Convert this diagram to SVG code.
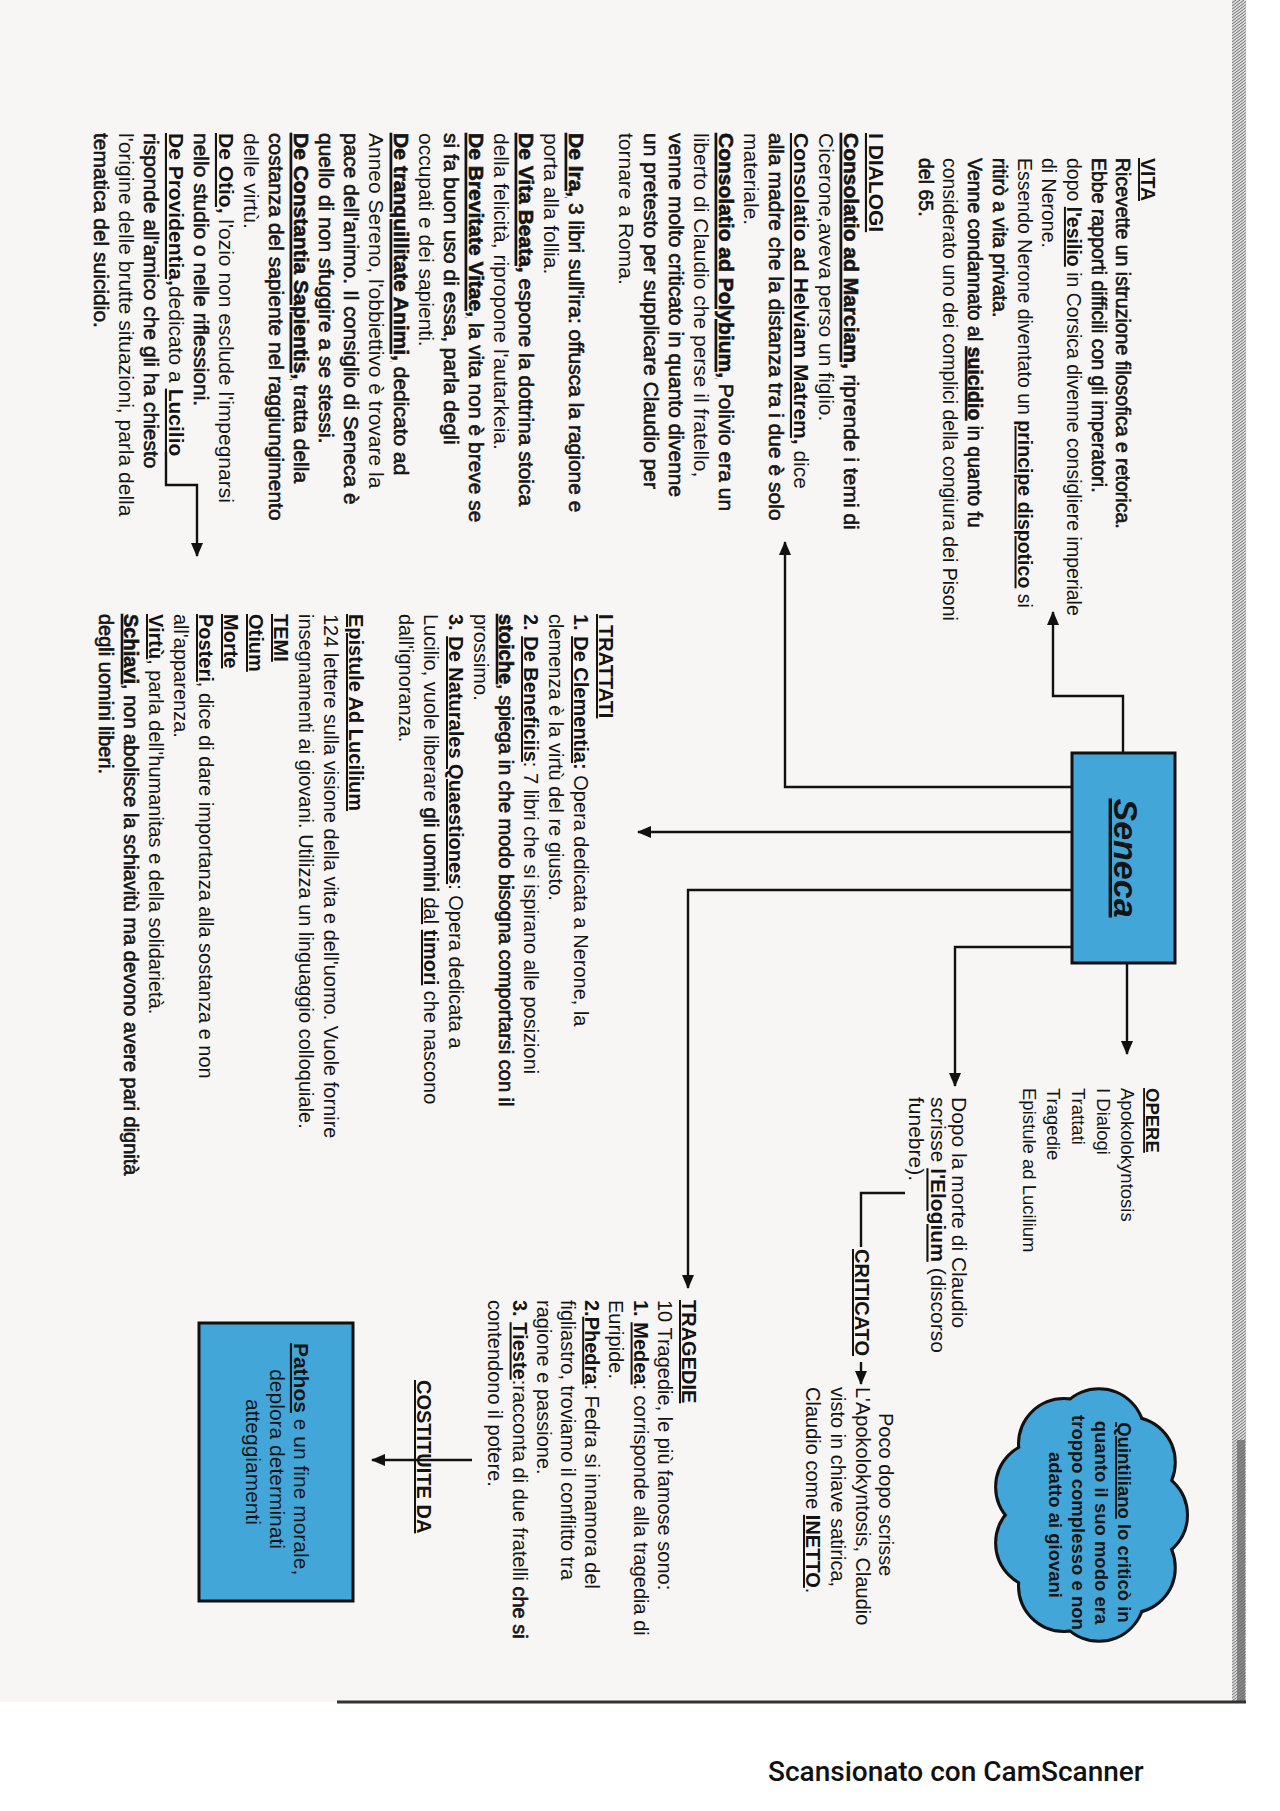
<svg xmlns="http://www.w3.org/2000/svg" width="1280" height="1811" viewBox="0 0 1280 1811">
<style>
.t{font-family:"Liberation Sans",Arial,sans-serif;font-size:20px;fill:#141414}
.b{font-weight:bold}
.m{stroke:#141414;stroke-width:0.6px}
.u{text-decoration:underline}
.s195{font-size:19.5px}
.s21{font-size:21px}
.s185{font-size:18.5px}
.ln{fill:none;stroke:#111;stroke-width:2.4}
.box{fill:#42a7d8;stroke:#111;stroke-width:3}
.title{font-family:"Liberation Sans",Arial,sans-serif;font-size:34px;font-weight:bold;font-style:italic;fill:#141414;text-decoration:underline}
</style>
<defs>
<marker id="ah" markerUnits="userSpaceOnUse" markerWidth="14" markerHeight="12" refX="13" refY="6" orient="auto">
<path d="M0,0 L14,6 L0,12 z" fill="#111"/>
</marker>
<pattern id="hatch" width="4" height="3" patternUnits="userSpaceOnUse">
<rect width="4" height="3" fill="#d8d8d8"/>
<path d="M0,3 L4,0" stroke="#777" stroke-width="1"/>
</pattern>
</defs>
<rect width="1280" height="1811" fill="#ffffff"/>
<rect x="0" y="0" width="1246" height="1702" fill="#f7f6f5"/>
<rect x="1232" y="0" width="14" height="1702" fill="url(#hatch)"/>
<rect x="1237" y="1440" width="8" height="262" fill="#666" opacity="0.7"/>
<line x1="337" y1="1702" x2="1246" y2="1702" stroke="#333" stroke-width="3"/>

<g id="connectors">
<path class="ln" d="M1123 753 V696 H1053 V612" marker-end="url(#ah)"/>
<path class="ln" d="M1072 787 H785 V542" marker-end="url(#ah)"/>
<path class="ln" d="M1072 832 H638" marker-end="url(#ah)"/>
<path class="ln" d="M1072 890 H688 V1288" marker-end="url(#ah)"/>
<path class="ln" d="M1072 947 H955 V1086" marker-end="url(#ah)"/>
<path class="ln" d="M1127 963 V1054" marker-end="url(#ah)"/>
<path class="ln" d="M905 1193 H861 V1247"/>
<path class="ln" d="M861 1362 V1384" marker-end="url(#ah)"/>
<path class="ln" d="M472 1460 H372" marker-end="url(#ah)"/>
<path class="ln" d="M166 452 V485 H197 V556" marker-end="url(#ah)"/>
</g>

<g id="seneca">
<rect class="box" x="1072" y="753" width="103" height="210"/>
<text class="title" transform="translate(1114,858) rotate(90)" text-anchor="middle">Seneca</text>
</g>

<g id="vita">
<text class="t s195" transform="translate(1141,158) rotate(90)">
<tspan x="0" y="0" class="b u">VITA</tspan>
<tspan x="0" dy="24.7" class="m">Ricevette un istruzione filosofica e retorica.</tspan>
<tspan x="0" dy="24.7" class="m">Ebbe rapporti difficili con gli imperatori.</tspan>
<tspan x="0" dy="24.7">dopo <tspan class="b u">l'esilio</tspan> in Corsica divenne consigliere imperiale</tspan>
<tspan x="0" dy="24.7">di Nerone.</tspan>
<tspan x="0" dy="24.7">Essendo Nerone diventato un <tspan class="b u">principe dispotico</tspan> si</tspan>
<tspan x="0" dy="24.7" class="m">ritirò a vita privata.</tspan>
<tspan x="0" dy="24.7" class="m">Venne condannato al <tspan class="b u">suicidio</tspan> in quanto fu</tspan>
<tspan x="0" dy="24.7">considerato  uno dei complici della congiura dei Pisoni</tspan>
<tspan x="0" dy="24.7" class="m">del 65.</tspan>
</text>
</g>

<g id="dialogi">
<text class="t s21" transform="translate(869,133) rotate(90)">
<tspan x="0" y="0" class="b u">I DIALOGI</tspan>
<tspan x="0" dy="25" class="m"><tspan class="b u">Consolatio ad Marciam,</tspan> riprende i temi di</tspan>
<tspan x="0" dy="25">Cicerone,aveva perso un figlio.</tspan>
<tspan x="0" dy="25"><tspan class="b u">Consolatio ad Helviam Matrem,</tspan> dice</tspan>
<tspan x="0" dy="25" class="m">alla madre che la distanza tra i due è solo</tspan>
<tspan x="0" dy="25">materiale.</tspan>
<tspan x="0" dy="25" class="m"><tspan class="b u">Consolatio ad Polybium,</tspan> Polivio era un</tspan>
<tspan x="0" dy="25">liberto di Claudio che perse il fratello,</tspan>
<tspan x="0" dy="25" class="m">venne molto criticato in quanto divenne</tspan>
<tspan x="0" dy="25" class="m">un pretesto per supplicare Claudio per</tspan>
<tspan x="0" dy="25">tornare a Roma.</tspan>
<tspan x="0" dy="50" class="m"><tspan class="b u">De Ira,</tspan> 3 libri sull'ira: offusca la ragione e</tspan>
<tspan x="0" dy="25">porta alla follia.</tspan>
<tspan x="0" dy="25" class="m"><tspan class="b u">De Vita Beata,</tspan> espone la dottrina stoica</tspan>
<tspan x="0" dy="25">della felicità, ripropone l'autarkeia.</tspan>
<tspan x="0" dy="25" class="m"><tspan class="b u">De Brevitate Vitae,</tspan> la vita non è breve se</tspan>
<tspan x="0" dy="25" class="m">si fa buon uso di essa, parla degli</tspan>
<tspan x="0" dy="25">occupati e dei sapienti.</tspan>
<tspan x="0" dy="25" class="m"><tspan class="b u">De tranquillitate Animi,</tspan> dedicato ad</tspan>
<tspan x="0" dy="25">Anneo Sereno, l'obbiettivo è trovare la</tspan>
<tspan x="0" dy="25" class="m">pace dell'animo. Il consiglio di Seneca è</tspan>
<tspan x="0" dy="25" class="m">quello di non sfuggire a se stessi.</tspan>
<tspan x="0" dy="25" class="m"><tspan class="b u">De Constantia Sapientis,</tspan> tratta della</tspan>
<tspan x="0" dy="25" class="m">costanza del sapiente nel raggiungimento</tspan>
<tspan x="0" dy="25">delle virtù.</tspan>
<tspan x="0" dy="25"><tspan class="b u">De Otio,</tspan> l'ozio non esclude l'impegnarsi</tspan>
<tspan x="0" dy="25" class="m">nello studio o nelle riflessioni.</tspan>
<tspan x="0" dy="25"><tspan class="b u">De Providentia,</tspan>dedicato a <tspan class="b u">Lucilio</tspan></tspan>
<tspan x="0" dy="25" class="m">risponde all'amico che gli ha chiesto</tspan>
<tspan x="0" dy="25">l'origine delle brutte situazioni, parla della</tspan>
<tspan x="0" dy="25" class="m">tematica del suicidio.</tspan>
</text>
</g>

<g id="trattati">
<text class="t" transform="translate(599,614) rotate(90)">
<tspan x="0" y="0" class="b u">I TRATTATI</tspan>
<tspan x="0" dy="25"><tspan class="b">1. <tspan class="u">De Clementia</tspan>:</tspan> Opera dedicata a Nerone, la</tspan>
<tspan x="0" dy="25">clemenza è la virtù del re giusto.</tspan>
<tspan x="0" dy="25"><tspan class="b">2. <tspan class="u">De Beneficiis</tspan></tspan>: 7 libri che si ispirano alle posizioni</tspan>
<tspan x="0" dy="25" class="m"><tspan class="b u">stoiche</tspan>, spiega in che modo bisogna comportarsi con il</tspan>
<tspan x="0" dy="25">prossimo.</tspan>
<tspan x="0" dy="25"><tspan class="b">3. <tspan class="u">De Naturales Quaestiones</tspan></tspan>: Opera dedicata a</tspan>
<tspan x="0" dy="25">Lucilio, vuole liberare <tspan class="m">gli uomini</tspan> <tspan class="u">dal</tspan> <tspan class="b u">timori</tspan> che nascono</tspan>
<tspan x="0" dy="25">dall'ignoranza.</tspan>
<tspan x="0" dy="50" class="b u">Epistule Ad Lucilium</tspan>
<tspan x="0" dy="25">124 lettere sulla visione della vita e dell'uomo. Vuole fornire</tspan>
<tspan x="0" dy="25">insegnamenti ai giovani. Utilizza un linguaggio colloquiale.</tspan>
<tspan x="0" dy="25" class="b u">TEMI</tspan>
<tspan x="0" dy="25" class="b u">Otium</tspan>
<tspan x="0" dy="25" class="b u">Morte</tspan>
<tspan x="0" dy="25"><tspan class="b u">Posteri</tspan>, dice di dare importanza alla sostanza e non</tspan>
<tspan x="0" dy="25">all'apparenza.</tspan>
<tspan x="0" dy="25"><tspan class="b u">Virtù</tspan>, parla dell'humanitas e della solidarietà.</tspan>
<tspan x="0" dy="25" class="m"><tspan class="b u">Schiavi</tspan>, non abolisce la schiavitù ma devono avere pari dignità</tspan>
<tspan x="0" dy="25" class="m">degli uomini liberi.</tspan>
</text>
</g>

<g id="opere">
<text class="t s185" transform="translate(1146,1088) rotate(90)">
<tspan x="0" y="0" class="b u">OPERE</tspan>
<tspan x="0" dy="24.7">Apokolokyntosis</tspan>
<tspan x="0" dy="24.7">I Dialogi</tspan>
<tspan x="0" dy="24.7">Trattati</tspan>
<tspan x="0" dy="24.7">Tragedie</tspan>
<tspan x="0" dy="24.7">Epistule ad Lucilium</tspan>
</text>
</g>

<g id="elogium">
<text class="t s21" transform="translate(952,1097) rotate(90)">
<tspan x="0" y="0">Dopo la morte di Claudio</tspan>
<tspan x="0" dy="21.5">scrisse <tspan class="b u">l'Elogium</tspan> (discorso</tspan>
<tspan x="0" dy="21.5">funebre).</tspan>
</text>
</g>

<g id="criticato">
<text class="t b u" transform="translate(855,1249) rotate(90)">CRITICATO</text>
</g>

<g id="apokolokyntosis">
<text class="t" transform="translate(879,1413) rotate(90)">Poco dopo scrisse</text>
<text class="t" transform="translate(856,1387) rotate(90)">
<tspan x="0" y="0">L'Apokolokyntosis, Claudio</tspan>
<tspan x="0" dy="25">visto in chiave satirica,</tspan>
<tspan x="0" dy="25">Claudio come <tspan class="b u">INETTO</tspan>.</tspan>
</text>
</g>

<g id="tragedie">
<text class="t" transform="translate(682,1300) rotate(90)">
<tspan x="0" y="0" class="b u">TRAGEDIE</tspan>
<tspan x="0" dy="24.2">10 Tragedie, le più famose sono:</tspan>
<tspan x="0" dy="24.2"><tspan class="b">1.</tspan> <tspan class="b u">Medea</tspan>: corrisponde alla tragedia di</tspan>
<tspan x="0" dy="24.2">Euripide.</tspan>
<tspan x="0" dy="24.2"><tspan class="b">2.</tspan><tspan class="b u">Phedra</tspan>: Fedra si innamora del</tspan>
<tspan x="0" dy="24.2">figliastro, troviamo il conflitto tra</tspan>
<tspan x="0" dy="24.2">ragione e passione.</tspan>
<tspan x="0" dy="24.2"><tspan class="b">3.</tspan> <tspan class="b u">Tieste</tspan>:racconta di due fratelli <tspan class="m">che si</tspan></tspan>
<tspan x="0" dy="24.2">contendono il potere.</tspan>
</text>
</g>

<g id="costituite">
<text class="t b u" transform="translate(417,1380) rotate(90)">COSTITUITE DA</text>
</g>

<g id="pathos">
<rect class="box" x="199" y="1323" width="154" height="278"/>
<text class="t s21" transform="translate(294,1462) rotate(90)" text-anchor="middle">
<tspan x="0" y="0"><tspan class="b u">Pathos</tspan> e un fine morale,</tspan>
<tspan x="0" dy="24">deplora determinati</tspan>
<tspan x="0" dy="24">atteggiamenti</tspan>
</text>
</g>

<g id="quintiliano">
<g fill="#42a7d8" stroke="#111" stroke-width="6">
<circle cx="1142" cy="1515" r="44"/>
<circle cx="1129.8" cy="1567.7" r="44"/>
<circle cx="1099" cy="1595.8" r="44"/>
<circle cx="1064" cy="1586" r="44"/>
<circle cx="1041.1" cy="1543" r="44"/>
<circle cx="1041.1" cy="1487" r="44"/>
<circle cx="1064" cy="1444" r="44"/>
<circle cx="1099" cy="1434.2" r="44"/>
<circle cx="1129.8" cy="1462.3" r="44"/>
</g>
<g fill="#42a7d8">
<circle cx="1142" cy="1515" r="44"/>
<circle cx="1129.8" cy="1567.7" r="44"/>
<circle cx="1099" cy="1595.8" r="44"/>
<circle cx="1064" cy="1586" r="44"/>
<circle cx="1041.1" cy="1543" r="44"/>
<circle cx="1041.1" cy="1487" r="44"/>
<circle cx="1064" cy="1444" r="44"/>
<circle cx="1099" cy="1434.2" r="44"/>
<circle cx="1129.8" cy="1462.3" r="44"/>
<ellipse cx="1090" cy="1515" rx="62" ry="92"/>
</g>
<text class="t s185 b" transform="translate(1118,1525) rotate(90)" text-anchor="middle">
<tspan x="0" y="0"><tspan class="u">Quintiliano</tspan> lo criticò in</tspan>
<tspan x="0" dy="23">quanto il suo modo era</tspan>
<tspan x="0" dy="23">troppo complesso e non</tspan>
<tspan x="0" dy="23">adatto ai giovani</tspan>
</text>
</g>

<g id="footer">
<text x="768" y="1781" font-family="Roboto,'Liberation Sans',sans-serif" font-weight="500" font-size="28" fill="#111">Scansionato con CamScanner</text>
</g>
</svg>
